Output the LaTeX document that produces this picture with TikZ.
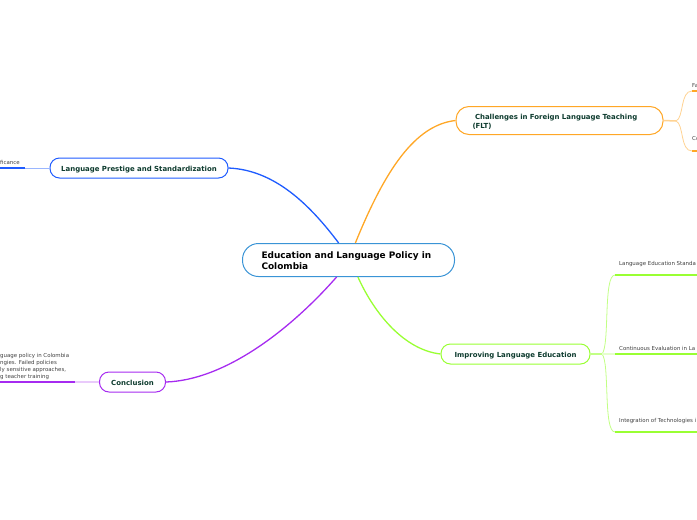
\documentclass[tikz,border=0pt]{standalone}
\usepackage{fontspec}
\setmainfont{DejaVu Sans}
\usetikzlibrary{positioning}
\definecolor{blueMain}{HTML}{1F5CFF}
\definecolor{orangeMain}{HTML}{FFA726}
\definecolor{greenMain}{HTML}{99FF33}
\definecolor{purpleMain}{HTML}{A62BF0}
\definecolor{rootLine}{HTML}{3A94D6}
\definecolor{mainText}{HTML}{0D3B2E}
\begin{document}
\begin{tikzpicture}[
	root/.style = { rectangle, rounded corners = 16pt, draw = rootLine, fill = white, line width = 1pt, text = black, font = \bfseries\fontsize{8.95}{10.8}\selectfont, align = left, inner sep = 0pt, minimum height = 33pt, minimum width = 212pt, text width = 174pt, text depth = 9pt },
	branch/.style = { rectangle, rounded corners = 9.5pt, fill = white, line width = 1pt, text = mainText, font = \bfseries\fontsize{6.95}{9}\selectfont, align = center, inner sep = 0pt, text height = 6pt, text depth = 0pt },
	longbranch/.style = { rectangle, rounded corners = 13pt, fill = white, line width = 1pt, text = mainText, font = \bfseries\fontsize{6.95}{9}\selectfont, align = left, inner sep = 0pt, text depth = 8pt },
	leaf/.style = { font = \fontsize{5.45}{6.7}\selectfont, text = black!75, inner sep = 0pt, anchor = west, align = left },
	]
	\def\oneUnit{1pt}

	\useasboundingbox (0,0) rectangle (697*\oneUnit,-520*\oneUnit);

	\node[root] (EDU) at (348.5*\oneUnit,-260*\oneUnit) {Education and Language Policy in Colombia};

	\node[branch, draw = blueMain, minimum width = 178pt, minimum height = 20pt] (PRESTIGE) at (139*\oneUnit,-168*\oneUnit) {Language Prestige and Standardization};
	\node[branch, draw = purpleMain, minimum width = 66pt, minimum height = 20pt] (CONCL) at (132.5*\oneUnit,-382*\oneUnit) {Conclusion};
	\node[longbranch, draw = orangeMain, minimum width = 207pt, minimum height = 28pt, text width = 174pt] (FLT) at (559.5*\oneUnit,-120.5*\oneUnit) {\hspace*{2.5pt}Challenges in Foreign Language Teaching\\(FLT)};
	\node[branch, draw = greenMain, minimum width = 149pt, minimum height = 20pt] (IMPROVE) at (515.5*\oneUnit,-354*\oneUnit) {Improving Language Education};

	\node[leaf] (SIGN) at (0*\oneUnit,-162.5*\oneUnit) {ficance};
	\node[leaf] (SUMMARY) at (0*\oneUnit,-366.5*\oneUnit) {guage policy in Colombia\\ngies. Failed policies\\ly sensitive approaches,\\g teacher training};
	\node[leaf] (FA) at (692*\oneUnit,-85.5*\oneUnit) {Fa};
	\node[leaf] (CO) at (692*\oneUnit,-138.5*\oneUnit) {Co};
	\node[leaf] (STANDARDS) at (619*\oneUnit,-263.5*\oneUnit) {Language Education Standa};
	\node[leaf] (EVAL) at (619*\oneUnit,-348.5*\oneUnit) {Continuous Evaluation in La};
	\node[leaf] (TECH) at (619*\oneUnit,-420.5*\oneUnit) {Integration of Technologies i};

	% hubs and free ends
	\coordinate (signStart) at (25*\oneUnit,-168*\oneUnit);
	\coordinate (signEnd) at (0*\oneUnit,-168*\oneUnit);
	\coordinate (sumStart) at (75*\oneUnit,-382*\oneUnit);
	\coordinate (sumEnd) at (0*\oneUnit,-382*\oneUnit);
	\coordinate (hubFLT) at (676*\oneUnit,-121*\oneUnit);
	\coordinate (faStart) at (692*\oneUnit,-91*\oneUnit);
	\coordinate (faEnd) at (697*\oneUnit,-91*\oneUnit);
	\coordinate (coStart) at (692*\oneUnit,-151*\oneUnit);
	\coordinate (coEnd) at (697*\oneUnit,-151*\oneUnit);
	\coordinate (hubImp) at (602*\oneUnit,-354*\oneUnit);
	\coordinate (stdStart) at (615*\oneUnit,-275*\oneUnit);
	\coordinate (stdEnd) at (697*\oneUnit,-275*\oneUnit);
	\coordinate (evaStart) at (615*\oneUnit,-354*\oneUnit);
	\coordinate (evaEnd) at (697*\oneUnit,-354*\oneUnit);
	\coordinate (tecStart) at (615*\oneUnit,-432*\oneUnit);
	\coordinate (tecEnd) at (697*\oneUnit,-432*\oneUnit);

	\draw[blueMain, line width = 1.3pt] (EDU.120) .. controls (310*\oneUnit,-205*\oneUnit) and (275*\oneUnit,-170*\oneUnit) .. (PRESTIGE.east);
	\draw[orangeMain, line width = 1.3pt] (EDU.68) .. controls (385*\oneUnit,-170*\oneUnit) and (415*\oneUnit,-125*\oneUnit) .. (FLT.west);
	\draw[greenMain, line width = 1.3pt] (EDU.-61) .. controls (375*\oneUnit,-315*\oneUnit) and (405*\oneUnit,-350*\oneUnit) .. (IMPROVE.west);
	\draw[purpleMain, line width = 1.3pt] (EDU.-125) .. controls (290*\oneUnit,-330*\oneUnit) and (225*\oneUnit,-380*\oneUnit) .. (CONCL.east);

	\draw[blueMain!45, line width = 1pt] (PRESTIGE.west) -- (signStart);
	\draw[blueMain, line width = 1.5pt] (signStart) -- (signEnd);
	\draw[purpleMain!25, line width = 1.5pt] (CONCL.west) -- (sumStart);
	\draw[purpleMain, line width = 1.5pt] (sumStart) -- (sumEnd);

	\draw[orangeMain!50, line width = 1.5pt] (FLT.east) -- (hubFLT);
	\draw[orangeMain!50, line width = .8pt] (hubFLT) .. controls (684*\oneUnit,-118*\oneUnit) and (680*\oneUnit,-91*\oneUnit) .. (faStart);
	\draw[orangeMain!50, line width = .8pt] (hubFLT) .. controls (684*\oneUnit,-124*\oneUnit) and (680*\oneUnit,-151*\oneUnit) .. (coStart);
	\draw[orangeMain, line width = 1.3pt] (faStart) -- (faEnd);
	\draw[orangeMain, line width = 1.3pt] (coStart) -- (coEnd);

	\draw[greenMain!60, line width = 1.5pt] (IMPROVE.east) -- (hubImp);
	\draw[greenMain!60, line width = .8pt] (hubImp) .. controls (610*\oneUnit,-345*\oneUnit) and (603*\oneUnit,-275*\oneUnit) .. (stdStart);
	\draw[greenMain!60, line width = .8pt] (hubImp) .. controls (610*\oneUnit,-363*\oneUnit) and (603*\oneUnit,-432*\oneUnit) .. (tecStart);
	\draw[greenMain!25, line width = 1.2pt] (hubImp) -- (evaStart);
	\draw[greenMain, line width = 1.3pt] (stdStart) -- (stdEnd);
	\draw[greenMain, line width = 1.5pt] (evaStart) -- (evaEnd);
	\draw[greenMain, line width = 1.3pt] (tecStart) -- (tecEnd);
\end{tikzpicture}
\end{document}
